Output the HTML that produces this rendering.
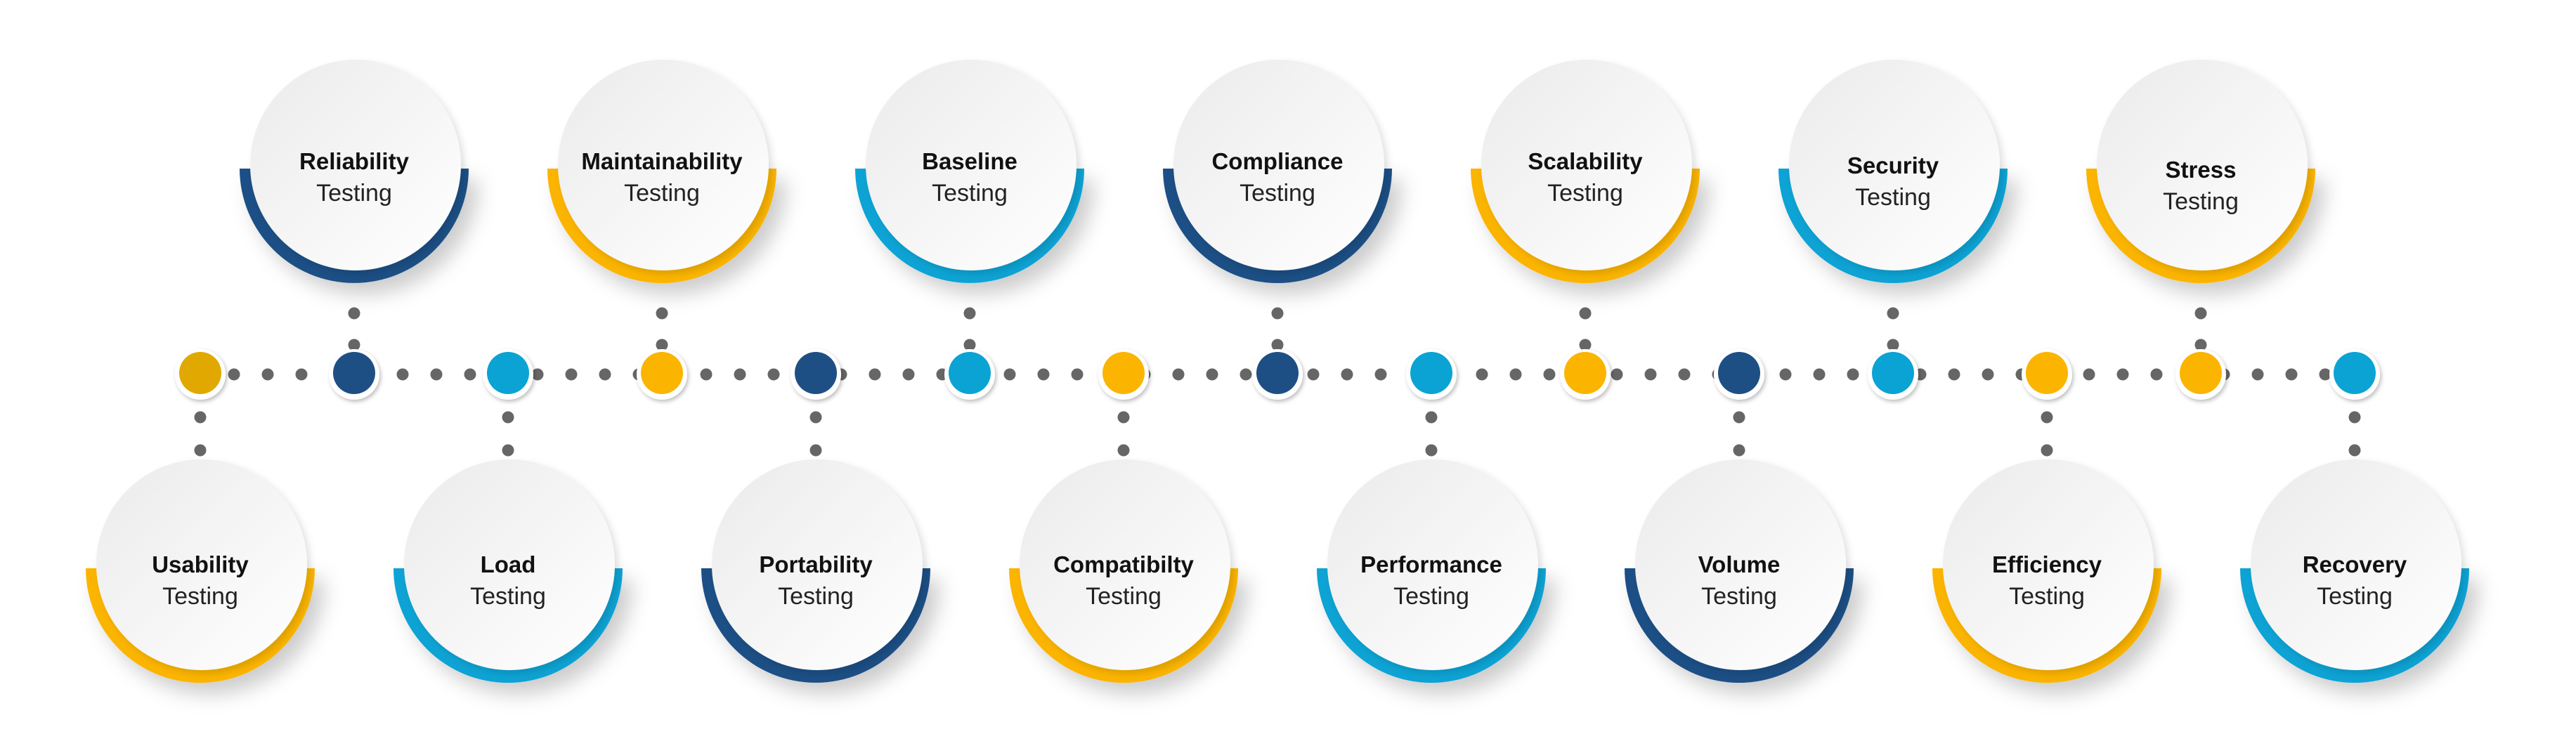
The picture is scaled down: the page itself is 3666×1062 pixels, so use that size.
<!DOCTYPE html>
<html><head><meta charset="utf-8"><style>
html,body{margin:0;padding:0;background:#fff;}
svg{display:block;}
text{font-family:"Liberation Sans",sans-serif;text-anchor:middle;fill:#111;}
.b{font-weight:bold;font-size:33px;}
.r{font-size:34px;fill:#222;}
</style></head><body>
<svg width="3666" height="1062" viewBox="0 0 3666 1062" xmlns="http://www.w3.org/2000/svg">
<defs>
<linearGradient id="g" x1="0" y1="0" x2="1" y2="1">
<stop offset="0" stop-color="#ebebeb"/><stop offset="1" stop-color="#ffffff"/></linearGradient>
<filter id="sh" x="-30%" y="-30%" width="160%" height="160%">
<feDropShadow dx="14" dy="16" stdDeviation="14" flood-color="#000" flood-opacity="0.2"/></filter>
<filter id="sh3" x="-30%" y="-30%" width="160%" height="160%">
<feDropShadow dx="5" dy="5" stdDeviation="5" flood-color="#000" flood-opacity="0.12"/></filter>
<filter id="sh2" x="-50%" y="-50%" width="200%" height="200%">
<feDropShadow dx="2" dy="3" stdDeviation="3" flood-color="#000" flood-opacity="0.25"/></filter>
</defs>
<g id="dots" fill="#666"></g>
<g id="all"></g>
<script>
var Y='#fbb400',C='#0aa3d4',D='#1d4f85',G='#e0a800';
var ns='http://www.w3.org/2000/svg';
function el(t,a,p){var e=document.createElementNS(ns,t);for(var k in a)e.setAttribute(k,a[k]);(p||document.getElementById('all')).appendChild(e);return e;}
var dots=document.getElementById('dots');
for(var x=285;x<=3400;x+=48) el('circle',{cx:x,cy:533,r:8.5},dots);
var items=[
['Usability',Y],['Reliability',D],['Load',C],['Maintainability',Y],['Portability',D],['Baseline',C],['Compatibilty',Y],['Compliance',D],['Performance',C],['Scalability',Y],['Volume',D],['Security',C],['Efficiency',Y],['Stress',Y],['Recovery',C]];
var nodeCols=[G,D,C,Y,D,C,Y,D,C,Y,D,C,Y,Y,C];
var adj={'Security':6,'Stress':12};
items.forEach(function(it,k){
 var cx=285+219*k, top=(k%2==1), cy=top?248:817, R=163;
 var vy=top?[446,491]:[594,641];
 vy.forEach(function(y){el('circle',{cx:cx,cy:y,r:8.5,fill:'#666'});});
 var d='M'+(cx-R)+' '+(cy-8)+' A'+R+' '+R+' 0 0 0 '+(cx+R)+' '+(cy-8)+' Z';
 el('path',{d:d,fill:it[1],filter:'url(#sh)'});
 el('circle',{cx:cx+2,cy:cy-13,r:150,fill:'url(#g)',filter:'url(#sh3)'});
 var o=adj[it[0]]||0, b0=top?-7:-2;
 var t1=el('text',{x:cx,y:cy+b0+o,'class':'b'});t1.textContent=it[0];
 var t2=el('text',{x:cx,y:cy+b0+45+o,'class':'r'});t2.textContent='Testing';
 el('circle',{cx:cx,cy:533,r:36,fill:'#fff',filter:'url(#sh2)'});
 el('circle',{cx:cx,cy:531,r:30,fill:nodeCols[k]});
});
</script>
</svg>
</body></html>
